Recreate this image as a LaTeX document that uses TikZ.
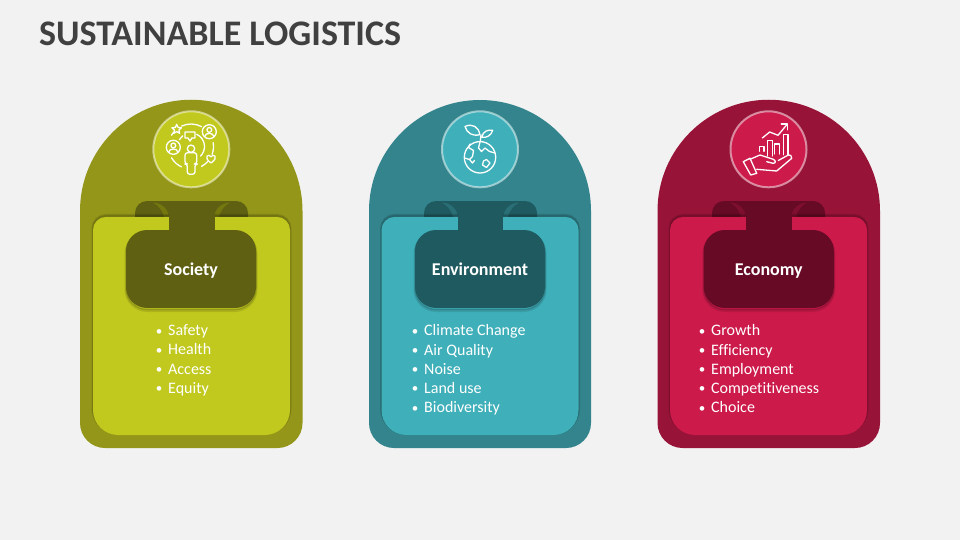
\documentclass[tikz,border=0pt]{standalone}
\usepackage{fontspec}
\setmainfont[Ligatures={NoCommon}]{Carlito}
\definecolor{pagebg}{HTML}{F2F2F2}
\definecolor{titlegray}{HTML}{404040}
\definecolor{oliveout}{HTML}{949619}
\definecolor{olivein}{HTML}{C1C91F}
\definecolor{olivedark}{HTML}{5F6012}
\definecolor{oliveear}{HTML}{75770F}
\definecolor{tealout}{HTML}{33848C}
\definecolor{tealin}{HTML}{3FAFB9}
\definecolor{tealdark}{HTML}{1F5A60}
\definecolor{tealear}{HTML}{2A6F76}
\definecolor{redout}{HTML}{981338}
\definecolor{redin}{HTML}{CC1A4B}
\definecolor{reddark}{HTML}{660A25}
\definecolor{redear}{HTML}{7E0F2E}
\tikzset{
  edgeglow/.style={preaction={draw=black,opacity=.12,line width=3pt,transform canvas={yshift=1.6pt}},
                   preaction={draw=black,opacity=.12,line width=1.4pt,transform canvas={yshift=1.2pt}}},
  boxglow/.style={preaction={draw=black,opacity=.10,line width=3pt,transform canvas={yshift=-2.5pt}},
                  preaction={draw=black,opacity=.14,line width=1.5pt,transform canvas={yshift=-1.5pt}}},
  labelbox/.style={boxglow,minimum width=130pt,minimum height=78pt,rounded corners=21pt,
                   inner sep=0pt,text=white,text height=13pt,text depth=1pt,
                   font=\fontsize{18}{20}\selectfont\bfseries},
  listbox/.style={anchor=north west,inner sep=0pt,align=left,text=white,
                  font=\fontsize{16}{19.2}\selectfont},
  iconring/.style={draw=white,draw opacity=.5,line width=2pt},
  iconline/.style={draw=white,line width=1.3pt,line cap=round,line join=round}
}
\newcommand{\listrow}[1]{\makebox[13pt][l]{\hspace{.6pt}\raisebox{.6pt}{\fontsize{13}{13}\selectfont\textbullet}}#1}
\begin{document}
\begin{tikzpicture}[x=1pt,y=-1pt]
        \useasboundingbox (0,0) rectangle (960,540);
        \fill[pagebg] (0,0) rectangle (960,540);

        \node[anchor=west,inner sep=0pt,text=titlegray,font=\fontsize{36}{40}\selectfont\bfseries] (title) at (39,34) {SUSTAINABLE LOGISTICS};

        % society
        \fill[oliveout] (80,211) arc[start angle=180,end angle=360,radius=111.25] {[rounded corners=25pt] -- (302.5,448) -- (80,448)} -- cycle;
        \fill[olivedark] (135,217) {[rounded corners=12pt] -- (135,201) -- (248,201)} -- (248,217) -- cycle;
        \fill[oliveear] (153,202.5) .. controls (162,203) and (168,209) .. (169,217) -- (164,217) .. controls (163,211) and (158,205) .. (153,202.5) -- cycle;
        \fill[oliveear] (230,202.5) .. controls (221,203) and (215,209) .. (214,217) -- (219,217) .. controls (220,211) and (225,205) .. (230,202.5) -- cycle;
        \path[edgeglow,fill=olivein] (93,230) {[rounded corners=13pt] -- (93,217) -- (290,217)} -- (290,230) {[rounded corners=25pt] -- (290,435) -- (93,435)} -- cycle;
        \fill[olivedark] (169,201) rectangle (214.5,235);
        \node[labelbox,fill=olivedark] (society) at (191,269) {Society};
        \node[listbox] (societylist) at (155,324.5) {\listrow{Safety}\\\listrow{Health}\\\listrow{Access}\\\listrow{Equity}};
        \filldraw[fill=olivein,iconring] (191.3,149.3) circle (38);

        \draw[iconline] (191,148.7) circle (3.7);
        \draw[iconline,rounded corners=2.5pt] (187.3,174.3) -- (187.3,164) -- (185,164) -- (185,152.7) -- (196.7,152.7) -- (196.7,164) -- (195,164) -- (195,174.3) -- cycle;
        \draw[iconline] (173.3,147.3) circle (7);
        \draw[iconline] (173.3,145.5) circle (2.4);
        \draw[iconline] (168.8,152) .. controls (169,148) and (177.6,148) .. (177.8,152);
        \draw[iconline] (209.3,131.7) circle (7);
        \draw[iconline] (209.3,129.9) circle (2.4);
        \draw[iconline] (204.8,136.4) .. controls (205,132.4) and (213.6,132.4) .. (213.8,136.4);
        \draw[iconline] (176.7,124.3) -- (178.05,127.4) -- (181.5,127.8) -- (178.9,130) -- (179.6,133.3) -- (176.7,131.6) -- (173.8,133.3) -- (174.5,130) -- (171.9,127.8) -- (175.35,127.4) -- cycle;
        \draw[iconline] (185,132) -- (195,132) -- (195,138) -- (192,138) -- (190,141) -- (188,138) -- (185,138) -- cycle;
        \draw[iconline] (211,163) .. controls (207,160) and (206,158) .. (207,156.2) .. controls (208,154.8) and (210,155) .. (211,156.8) .. controls (212,155) and (214,154.8) .. (215,156.2) .. controls (216,158) and (215,160) .. (211,163) -- cycle;
        \draw[iconline] (191,146.5) ++(-115:22.5) arc[start angle=-115,end angle=-62,radius=22.5];
        \draw[iconline] (191,146.5) ++(-10:22.5) arc[start angle=-10,end angle=20,radius=22.5];
        \draw[iconline] (191,146.5) ++(42:22.5) arc[start angle=42,end angle=62,radius=22.5];
        \draw[iconline] (191,146.5) ++(115:22.5) arc[start angle=115,end angle=150,radius=22.5];
        \draw[iconline] (191,146.5) ++(-150:22.5) arc[start angle=-150,end angle=-140,radius=22.5];
        \draw[iconline] (191,146.5) ++(-65:13.5) arc[start angle=-65,end angle=45,radius=13.5];
        \draw[iconline] (191,146.5) ++(-150:13.5) arc[start angle=-150,end angle=-128,radius=13.5];

        % environment
        \fill[tealout] (369,211) arc[start angle=180,end angle=360,radius=111] {[rounded corners=25pt] -- (591,448) -- (369,448)} -- cycle;
        \fill[tealdark] (424,217) {[rounded corners=12pt] -- (424,201) -- (537,201)} -- (537,217) -- cycle;
        \fill[tealear] (442,202.5) .. controls (451,203) and (457,209) .. (458,217) -- (453,217) .. controls (452,211) and (447,205) .. (442,202.5) -- cycle;
        \fill[tealear] (519,202.5) .. controls (510,203) and (504,209) .. (503,217) -- (508,217) .. controls (509,211) and (514,205) .. (519,202.5) -- cycle;
        \path[edgeglow,fill=tealin] (381.5,230) {[rounded corners=13pt] -- (381.5,217) -- (578.5,217)} -- (578.5,230) {[rounded corners=25pt] -- (578.5,435) -- (381.5,435)} -- cycle;
        \fill[tealdark] (458,201) rectangle (503,235);
        \node[labelbox,fill=tealdark] (environment) at (480,269) {Environment};
        \node[listbox] (environmentlist) at (411,324.5) {\listrow{Climate Change}\\\listrow{Air Quality}\\\listrow{Noise}\\\listrow{Land use}\\\listrow{Biodiversity}};
        \filldraw[fill=tealin,iconring] (480,149.3) circle (38);

        \draw[iconline] (480,157.3) circle (15.7);
        \draw[iconline] (480.3,141.5) -- (481,134.7);
        \draw[iconline] (465,126.5) .. controls (472,123) and (479,127) .. (479.8,134.7) .. controls (472,136.5) and (467,133) .. (465,126.5) -- cycle;
        \draw[iconline] (481.7,137.3) .. controls (483,131) and (488,129.5) .. (492.7,130.3) .. controls (491,135.5) and (487,138) .. (481.7,137.3) -- cycle;
        \draw[iconline] (470,144) -- (468.5,147.5) -- (473.5,150.5) -- (472.5,156.5) -- (469.5,159.5) -- (472.5,163) -- (474.5,160.5);
        \draw[iconline] (464.5,158) -- (469.5,159.5);
        \draw[iconline] (480,142) -- (478.5,148) -- (481.5,151.5) -- (485,148) -- (489.5,151.5) -- (495,153);
        \draw[iconline] (483.5,161) -- (486.5,159.5) -- (490,163) -- (486.5,167.5) -- (482.5,165) -- cycle;

        % economy
        \fill[redout] (657.5,211) arc[start angle=180,end angle=360,radius=111.25] {[rounded corners=25pt] -- (880,448) -- (657.5,448)} -- cycle;
        \fill[reddark] (712,217) {[rounded corners=12pt] -- (712,201) -- (825,201)} -- (825,217) -- cycle;
        \fill[redear] (730,202.5) .. controls (739,203) and (745,209) .. (746,217) -- (741,217) .. controls (740,211) and (735,205) .. (730,202.5) -- cycle;
        \fill[redear] (807,202.5) .. controls (798,203) and (792,209) .. (791,217) -- (796,217) .. controls (797,211) and (802,205) .. (807,202.5) -- cycle;
        \path[edgeglow,fill=redin] (670,230) {[rounded corners=13pt] -- (670,217) -- (867,217)} -- (867,230) {[rounded corners=25pt] -- (867,435) -- (670,435)} -- cycle;
        \fill[reddark] (746,201) rectangle (791.5,235);
        \node[labelbox,fill=reddark] (economy) at (768.8,269) {Economy};
        \node[listbox] (economylist) at (698,324.5) {\listrow{Growth}\\\listrow{Efficiency}\\\listrow{Employment}\\\listrow{Competitiveness}\\\listrow{Choice}};
        \filldraw[fill=redin,iconring] (768.5,149.3) circle (38);

        \draw[iconline] (759.7,151.3) -- (759.7,146.3) -- (764,146.3) -- (764,151.3);
        \draw[iconline] (767.3,156) -- (767.3,140.3) -- (772.3,140.3) -- (772.3,156);
        \draw[iconline] (774.7,154) -- (774.7,144) -- (779.7,144) -- (779.7,154);
        \draw[iconline] (783.7,154.7) -- (783.7,134.7) -- (788,134.7) -- (788,154.7);
        \draw[iconline] (762.3,138) -- (769.7,132) -- (778,135.3) -- (786.3,125.3);
        \draw[iconline] (781.3,124) -- (787.3,124) -- (787.3,129.7);
        \draw[iconline] (743.3,161.7) -- (750,158.3) -- (756.7,173.3) -- (750.7,175) -- cycle;
        \draw[iconline] (750,159.3) -- (760,155) -- (773.3,159.3) .. controls (776,160.5) and (776,163.5) .. (773,163.3) -- (766.7,161.7);
        \draw[iconline] (756.7,169.3) -- (776.7,171) -- (791.7,158.3) .. controls (792,155.5) and (790,154.5) .. (788.3,155) -- (778.3,160.5);
\end{tikzpicture}
\end{document}
